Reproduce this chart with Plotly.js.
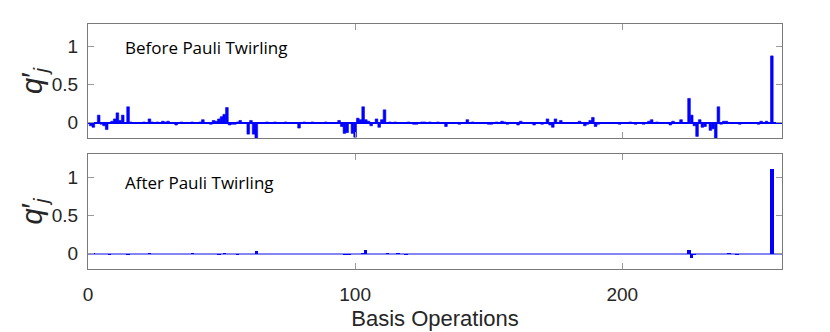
<!DOCTYPE html>
<html>
<head>
<meta charset="utf-8">
<script src="https://cdn.plot.ly/plotly-3.0.1.min.js"></script>
<style>html,body{margin:0;padding:0;background:#fff;}#chart{width:830px;height:332px;}</style>
</head>
<body>
<div id="chart"></div>
<script>
// Basis operation index (1..256)
const basisOps = [];
for (let k = 1; k <= 256; k++) basisOps.push(k);

// q'_j before Pauli twirling
const qBefore = [
  -0.04,-0.06,0.00,0.10,-0.02,-0.04,-0.09,0.00,0.02,0.05,0.13,0.03,0.10,0.00,0.21,0.01,
  -0.01,-0.01,-0.01,0.00,0.01,0.00,0.05,0.01,0.00,0.01,0.00,0.02,0.01,0.02,0.00,-0.01,
  -0.03,0.00,0.01,0.00,-0.01,0.00,0.01,0.00,-0.01,0.01,0.04,0.00,-0.01,-0.02,0.03,0.02,
  0.05,0.08,0.11,0.20,-0.03,-0.02,-0.02,0.01,0.03,0.00,-0.01,-0.15,0.03,-0.15,-0.20,0.00,
  0.00,-0.01,0.01,0.00,0.00,0.01,0.00,-0.01,0.00,0.01,0.00,0.00,-0.01,0.00,-0.07,0.00,
  0.01,0.00,0.00,0.01,0.00,-0.01,0.00,0.00,0.01,0.00,-0.01,0.00,0.00,0.03,-0.05,-0.14,
  -0.13,-0.01,-0.14,-0.19,0.06,0.04,0.21,0.04,0.02,-0.04,0.00,0.05,-0.06,0.04,0.17,0.00,
  0.01,0.00,0.01,0.00,0.00,-0.01,0.00,0.01,0.00,-0.02,-0.02,0.00,0.01,0.01,0.00,0.01,
  0.00,0.00,0.01,0.00,0.00,-0.05,0.00,-0.01,0.00,0.00,-0.02,0.00,0.00,0.04,0.00,0.01,
  0.00,-0.01,0.00,0.00,0.00,-0.02,-0.02,0.00,0.01,0.00,0.02,0.01,-0.02,0.00,0.00,0.00,
  -0.03,0.02,0.00,0.00,-0.01,0.00,-0.03,0.00,-0.01,-0.02,0.00,0.05,-0.03,-0.06,0.05,0.00,
  0.03,-0.01,-0.01,-0.01,0.00,0.00,0.00,0.02,0.00,-0.04,-0.02,0.03,0.07,-0.05,-0.02,0.00,
  0.00,0.00,0.00,0.00,0.00,0.00,-0.02,0.00,0.00,0.00,0.01,0.00,-0.02,0.00,0.00,-0.02,
  0.00,0.02,0.04,0.00,0.01,0.00,-0.01,0.00,0.00,-0.03,0.02,0.00,0.00,0.04,0.00,0.00,
  0.32,0.10,-0.04,-0.18,0.04,-0.06,-0.05,0.00,-0.10,-0.08,-0.20,0.21,-0.02,0.02,0.02,0.00,
  -0.01,0.00,0.00,-0.02,0.00,0.00,0.00,0.00,-0.01,0.00,-0.02,0.02,0.00,0.02,0.00,0.88
];

// q'_j after Pauli twirling
const qAfter = [
  0,0.01,0,0,0,0,0,-0.02,0,0,0,0,0,0,-0.02,0,
  -0.01,0,0,0,0,0,0.005,0,0,0,0,0,0,0,-0.01,0,
  -0.01,0,0,-0.01,0,0,0.005,0,0,0,0,0,0,0,0,-0.01,
  -0.02,0,0.01,-0.01,0,0,0,-0.02,0,0,0,0,0,0,0.03,0,
  0,0,0,0,0,0,0,0,0,0,0,0,0,0,0,0,
  0,0,0,0,0,0,0,0,0,0,0,0,0,0,0,-0.02,
  -0.02,-0.02,0,0,0,0,0.01,0.05,0,0,0,0,0,0,0,0.01,
  0,0,0,0.01,0,0,-0.02,0,0,0,0,0,0,0,0,0,
  0,0,0,0,0,0,0,0,0,0,0,0,0,0,0,0,
  0,0,0,0,0,0,0,0,0,0,0,0,0,0,0,0,
  0,0,0,0,0,0,0,0,0,0,0,0,0,0,0,0,
  0,0,0,0,0,0,0,0,0,0,0,0,0,0,0,0,
  0,0,0,0,0,0,0,0,0,0,0,0,0,0,0,0,
  0,0,0,0,0,0,0,0,0,0,0,0,0,0,0,0,
  0.05,-0.05,-0.02,0,0,0,0,0,0,0,0,0,0,0,0,0.005,
  0,-0.01,-0.02,0,0,0,0,0,0,0,0,0,0,0,0,1.11
];

const xTicks = [0, 100, 200];
const yTicks = [0, 0.5, 1];
const yTickText = ['0', '0.5', '1'];
const panelLabels = ['Before Pauli Twirling', 'After Pauli Twirling'];
const yLabel = '<i>q</i>\u2032<sub><i>j</i></sub>';

const boxColor = '#7a7a7a';
const tickColor = '#9a9a9a';
const sansFont = 'Liberation Sans, Arial, sans-serif';
const labelFont = {family: sansFont, size: 19, color: '#262626'};

function xAxis(anchor, showLabels, extra) {
  return Object.assign({
    anchor: anchor, range: [0, 259.8], tickvals: xTicks, ticktext: xTicks.map(String),
    showticklabels: showLabels, ticks: 'inside', ticklen: 6, tickwidth: 1, tickcolor: tickColor,
    showline: true, linecolor: boxColor, linewidth: 1, mirror: 'allticks',
    showgrid: false, zeroline: false, tickfont: labelFont, ticklabelstandoff: 8
  }, extra || {});
}
function yAxis(anchor, domain, zc) {
  return {
    anchor: anchor, domain: domain, range: [-0.2, 1.3], tickvals: yTicks, ticktext: yTickText,
    ticks: 'inside', ticklen: 6, tickwidth: 1, tickcolor: tickColor,
    showline: true, linecolor: boxColor, linewidth: 1, mirror: 'allticks',
    showgrid: false, zeroline: true, zerolinecolor: zc, zerolinewidth: 2,
    tickfont: labelFont, ticklabelstandoff: 5,
    title: {text: yLabel, font: {family: sansFont, size: 29, color: '#262626'}, standoff: 0}
  };
}

const traces = [
  {type: 'bar', x: basisOps, y: qBefore, xaxis: 'x', yaxis: 'y', width: 1,
   marker: {color: '#0000ff', line: {width: 0.6, color: '#0000ff'}}, hoverinfo: 'x+y'},
  {type: 'bar', x: basisOps, y: qAfter, xaxis: 'x2', yaxis: 'y2', width: 1.25,
   marker: {color: '#0000ff', line: {width: 0}}, hoverinfo: 'x+y'}
];

const layout = {
  width: 830, height: 332,
  margin: {l: 88, r: 48, t: 24, b: 63},
  paper_bgcolor: '#ffffff', plot_bgcolor: '#ffffff',
  showlegend: false, bargap: 0,
  xaxis: xAxis('y', false),
  yaxis: yAxis('x', [0.535, 1], '#0000ff'),
  xaxis2: xAxis('y2', true, {title: {text: 'Basis Operations', font: {family: sansFont, size: 22, color: '#262626'}, standoff: 6}}),
  yaxis2: yAxis('x2', [0, 0.469], '#8585f5'),
  annotations: [
    {text: panelLabels[0], xref: 'paper', yref: 'paper', x: 0.05, y: 0.905, xanchor: 'left', yanchor: 'middle',
     showarrow: false, font: {family: 'Open Sans, Noto Sans, sans-serif', size: 17, color: '#000'}},
    {text: panelLabels[1], xref: 'paper', yref: 'paper', x: 0.05, y: 0.355, xanchor: 'left', yanchor: 'middle',
     showarrow: false, font: {family: 'Open Sans, Noto Sans, sans-serif', size: 17, color: '#000'}}
  ]
};

Plotly.newPlot('chart', traces, layout, {displayModeBar: false, staticPlot: true});
</script>
</body>
</html>
